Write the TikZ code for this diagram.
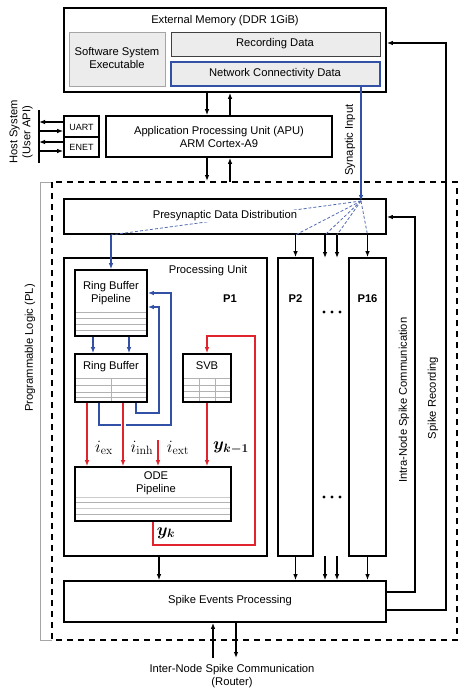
\documentclass[tikz,border=0pt]{standalone}
\usepackage[no-math]{fontspec}
\setmainfont{Liberation Sans}
\usepackage{amsmath,bm}
\usetikzlibrary{arrows.meta,fit}
\definecolor{myblue}{RGB}{50,80,165}
\definecolor{myred}{RGB}{225,35,45}
\definecolor{boxgray}{RGB}{236,236,236}
\definecolor{edgegray}{RGB}{165,165,165}
\begin{document}
\begin{tikzpicture}[x=1pt,y=-1pt,
  font=\fontsize{11.2}{13}\selectfont,
  box/.style={draw, line width=1.8pt, inner sep=0pt, fill=white},
  graybox/.style={draw=edgegray, line width=0.9pt, fill=boxgray, inner sep=0pt},
  txt/.style={inner sep=1pt, align=center},
  smalltxt/.style={inner sep=1pt, font=\fontsize{9}{11}\selectfont},
  mathlbl/.style={inner sep=0pt, font=\fontsize{17}{20}\selectfont},
  arr/.style={line width=1.3pt, -{Latex[length=6pt,width=4.6pt]}},
  bluearr/.style={arr, draw=myblue, -{Latex[length=6pt,width=4.6pt,color=myblue]}},
  redarr/.style={line width=1.3pt, draw=myred, -{Latex[length=6pt,width=4.6pt,color=myred]}},
  fan/.style={draw=myblue!85, line width=0.8pt, dash pattern=on 3pt off 2pt},
  grid/.style={draw=gray!60, line width=0.8pt}
]
\useasboundingbox (0,0) rectangle (474,688);

% Programmable logic region
\draw[edgegray, line width=0.9pt] (52,182) -- (40,182) -- (40,640) -- (52,640);
\draw[line width=1.8pt, dash pattern=on 6pt off 5pt] (52,182) rectangle (457,640);
\node[txt, rotate=90] (pl) at (30,348) {Programmable Logic (PL)};

% External memory
\node[box, fit={(64,8) (386,92)}] (mem) {};
\node[txt] (memt) at (225,21) {External Memory (DDR 1GiB)};
\node[graybox, fit={(69,32) (165,86)}] (sw) {};
\node[txt] (swt) at (117,58) {Software System\\Executable};
\node[graybox, draw=black!75, fit={(171,32) (380,56)}] (rec) {};
\node[txt] (rect) at (275,44) {Recording Data};
\node[graybox, draw=myblue, line width=1.2pt, fit={(171,62) (380,86)}] (net) {};
\node[txt] (nett) at (275,74) {Network Connectivity Data};

% APU and host
\node[box, fit={(106,116) (332,157)}] (apu) {};
\node[txt] (aput) at (219,137) {Application Processing Unit (APU)\\ARM Cortex-A9};
\node[box, fit={(64,116) (99,137)}] (uart) {};
\node[smalltxt] (uartt) at (81.5,127) {UART};
\node[box, fit={(64,137) (99,157)}] (enet) {};
\node[smalltxt] (enett) at (81.5,147) {ENET};
\coordinate (htop) at (39,110);
\coordinate (hbot) at (39,163);
\draw[line width=1.3pt] (htop) -- (hbot);
\coordinate (h1) at (39,122);
\coordinate (h2) at (39,131);
\coordinate (h3) at (39,142);
\coordinate (h4) at (39,151);
\draw[arr] (uart.west |- h1) -- (h1);
\draw[arr] (h2) -- (uart.west |- h2);
\draw[arr] (enet.west |- h3) -- (h3);
\draw[arr] (h4) -- (enet.west |- h4);
\node[txt, rotate=90] (host) at (21,132) {Host System\\(User API)};

\draw[arr] (mem.south -| 207,0) -- (apu.north -| 207,0);
\draw[arr] (apu.north -| 230,0) -- (mem.south -| 230,0);
\coordinate (pltop1) at (207,181);
\coordinate (pltop2) at (230,182);
\draw[arr] (apu.south -| pltop1) -- (pltop1);
\draw[arr] (pltop2) -- (apu.south -| pltop2);

% Presynaptic distribution
\node[box, fit={(64,199) (386,234)}] (pdd) {};
\coordinate (apex) at (361,201);
\node[box, fit={(64,258) (267,556)}] (p1) {};
\node[box, fit={(278,258) (313,556)}] (p2) {};
\node[box, fit={(349,258) (386,556)}] (p16) {};
\coordinate (fa) at (325,258);
\coordinate (fb) at (337,258);
\coordinate (ba) at (325,556);
\coordinate (bb) at (337,556);

\draw[fan] (apex) -- (pdd.south -| 111,0);
\draw[fan] (apex) -- (pdd.south -| p2.north);
\draw[fan] (apex) -- (pdd.south -| fa);
\draw[fan] (apex) -- (pdd.south -| fb);
\draw[fan] (apex) -- (pdd.south -| p16.north);
\node[txt, fill=white] (pddt) at (225,216) {Presynaptic Data Distribution};
\draw[bluearr] (net.south -| apex) -- (apex);
\node[txt, rotate=90] (syn) at (350,140) {Synaptic Input};

\draw[arr] (pdd.south -| p2.north) -- (p2.north);
\draw[arr] (pdd.south -| p16.north) -- (p16.north);
\draw[arr] (pdd.south -| fa) -- (fa);
\draw[arr] (pdd.south -| fb) -- (fb);

% labels of processing units
\node[txt] (put) at (208,271) {Processing Unit};
\node[txt, font=\fontsize{11.2}{13}\selectfont\bfseries] (p1t) at (230,299) {P1};
\node[txt, font=\fontsize{11.2}{13}\selectfont\bfseries] (p2t) at (295.5,299) {P2};
\node[txt, font=\fontsize{11.2}{13}\selectfont\bfseries] (p16t) at (367.5,299) {P16};
\foreach \y in {312,497} {
  \foreach \x in {324,332,340} \fill (\x,\y) circle (1.7pt);
}

% Spike events
\node[box, fit={(64,581) (386,622)}] (spe) {};
\node[txt] (spet) at (230,601) {Spike Events Processing};
\draw[arr] (p1.south -| 159,0) -- (spe.north -| 159,0);
\draw[arr] (p2.south) -- (spe.north -| p2.south);
\draw[arr] (p16.south) -- (spe.north -| p16.south);
\draw[arr] (ba) -- (spe.north -| ba);
\draw[arr] (bb) -- (spe.north -| bb);

\draw[arr] (spe.east |- 0,592) -- (415,592) -- (415,217) -- (pdd.east |- 0,217);
\draw[arr] (spe.east |- 0,610) -- (446,610) -- (446,43) -- (mem.east |- 0,43);
\node[txt, rotate=90] (intra) at (404,400) {Intra-Node Spike Communication};
\node[txt, rotate=90] (srec) at (433,398) {Spike Recording};

\node[txt, align=center] (router) at (232,676) {Inter-Node Spike Communication\\(Router)};
\coordinate (r1) at (213,658);
\coordinate (r2) at (236,658);
\draw[arr] (r1) -- (spe.south -| r1);
\draw[arr] (spe.south -| r2) -- (r2);

% P1 internals
\node[box, fit={(75,270) (147,336)}] (rbp) {};
\node[txt] (rbpt) at (111,293) {Ring Buffer\\Pipeline};
\foreach \y in {312,318,324,330} \draw[grid] (75,\y) -- (147,\y);
\node[box, fit={(75,354) (147,402)}] (rb) {};
\node[txt] (rbt) at (111,367) {Ring Buffer};
\foreach \y in {378,385,392,397} \draw[grid] (75,\y) -- (147,\y);
\draw[grid] (111,378) -- (111,402);
\node[box, fit={(183,354) (231,402)}] (svb) {};
\node[txt] (svbt) at (207,366) {SVB};
\foreach \y in {378,385,391,397} \draw[grid] (183,\y) -- (231,\y);
\draw[grid] (199,378) -- (199,402);
\draw[grid] (215,378) -- (215,402);
\node[box, fit={(75,467) (231,521)}] (ode) {};
\node[txt] (odet) at (156,483) {ODE\\Pipeline};
\draw[grid, draw=gray!40] (75,497) -- (231,497);
\draw[grid] (75,502.5) -- (231,502.5);
\draw[grid, draw=gray!40] (75,508) -- (231,508);
\draw[grid] (75,514) -- (231,514);
\draw[line width=1.8pt] (75,467) rectangle (231,521);
\draw[line width=1.8pt] (75,270) rectangle (147,336);

% blue connections
\draw[bluearr] (pdd.south -| rbp.north) -- (rbp.north);
\draw[bluearr] (rbp.south -| 93,0) -- (rb.north -| 93,0);
\draw[bluearr] (rbp.south -| 129,0) -- (rb.north -| 129,0);
\draw[bluearr] (rb.south -| 99,0) -- (99,425) -- (171,425) -- (171,293) -- (rbp.east |- 0,293);
\draw[bluearr] (rb.south -| 136,0) -- (136,413) -- (159,413) -- (159,307) -- (rbp.east |- 0,307);

% red connections
\draw[redarr] (rb.south -| 87,0) -- (ode.north -| 87,0);
\draw[redarr, preaction={draw=white, line width=5pt, -}] (rb.south -| 123,0) -- (ode.north -| 123,0);
\coordinate (iext) at (158,440);
\draw[redarr] (iext) -- (ode.north -| iext);
\draw[redarr] (svb.south) -- (ode.north -| svb.south);
\draw[redarr] (ode.south -| 153,0) -- (153,545) -- (255,545) -- (255,336) -- (207,336) -- (svb.north);
\draw[line width=1.8pt] (183,354) rectangle (231,402);
\draw[line width=1.8pt] (75,354) rectangle (147,402);

\node[mathlbl] (lex) at (104,448) {$i_{\mathrm{ex}}$};
\node[mathlbl] (linh) at (142,448) {$i_{\mathrm{inh}}$};
\node[mathlbl] (lext) at (178,448) {$i_{\mathrm{ext}}$};
\node[mathlbl] (lyk1) at (231,448) {$\bm{y_{k-1}}$};
\node[mathlbl] (lyk) at (166,533) {$\bm{y_{k}}$};
\end{tikzpicture}
\end{document}
